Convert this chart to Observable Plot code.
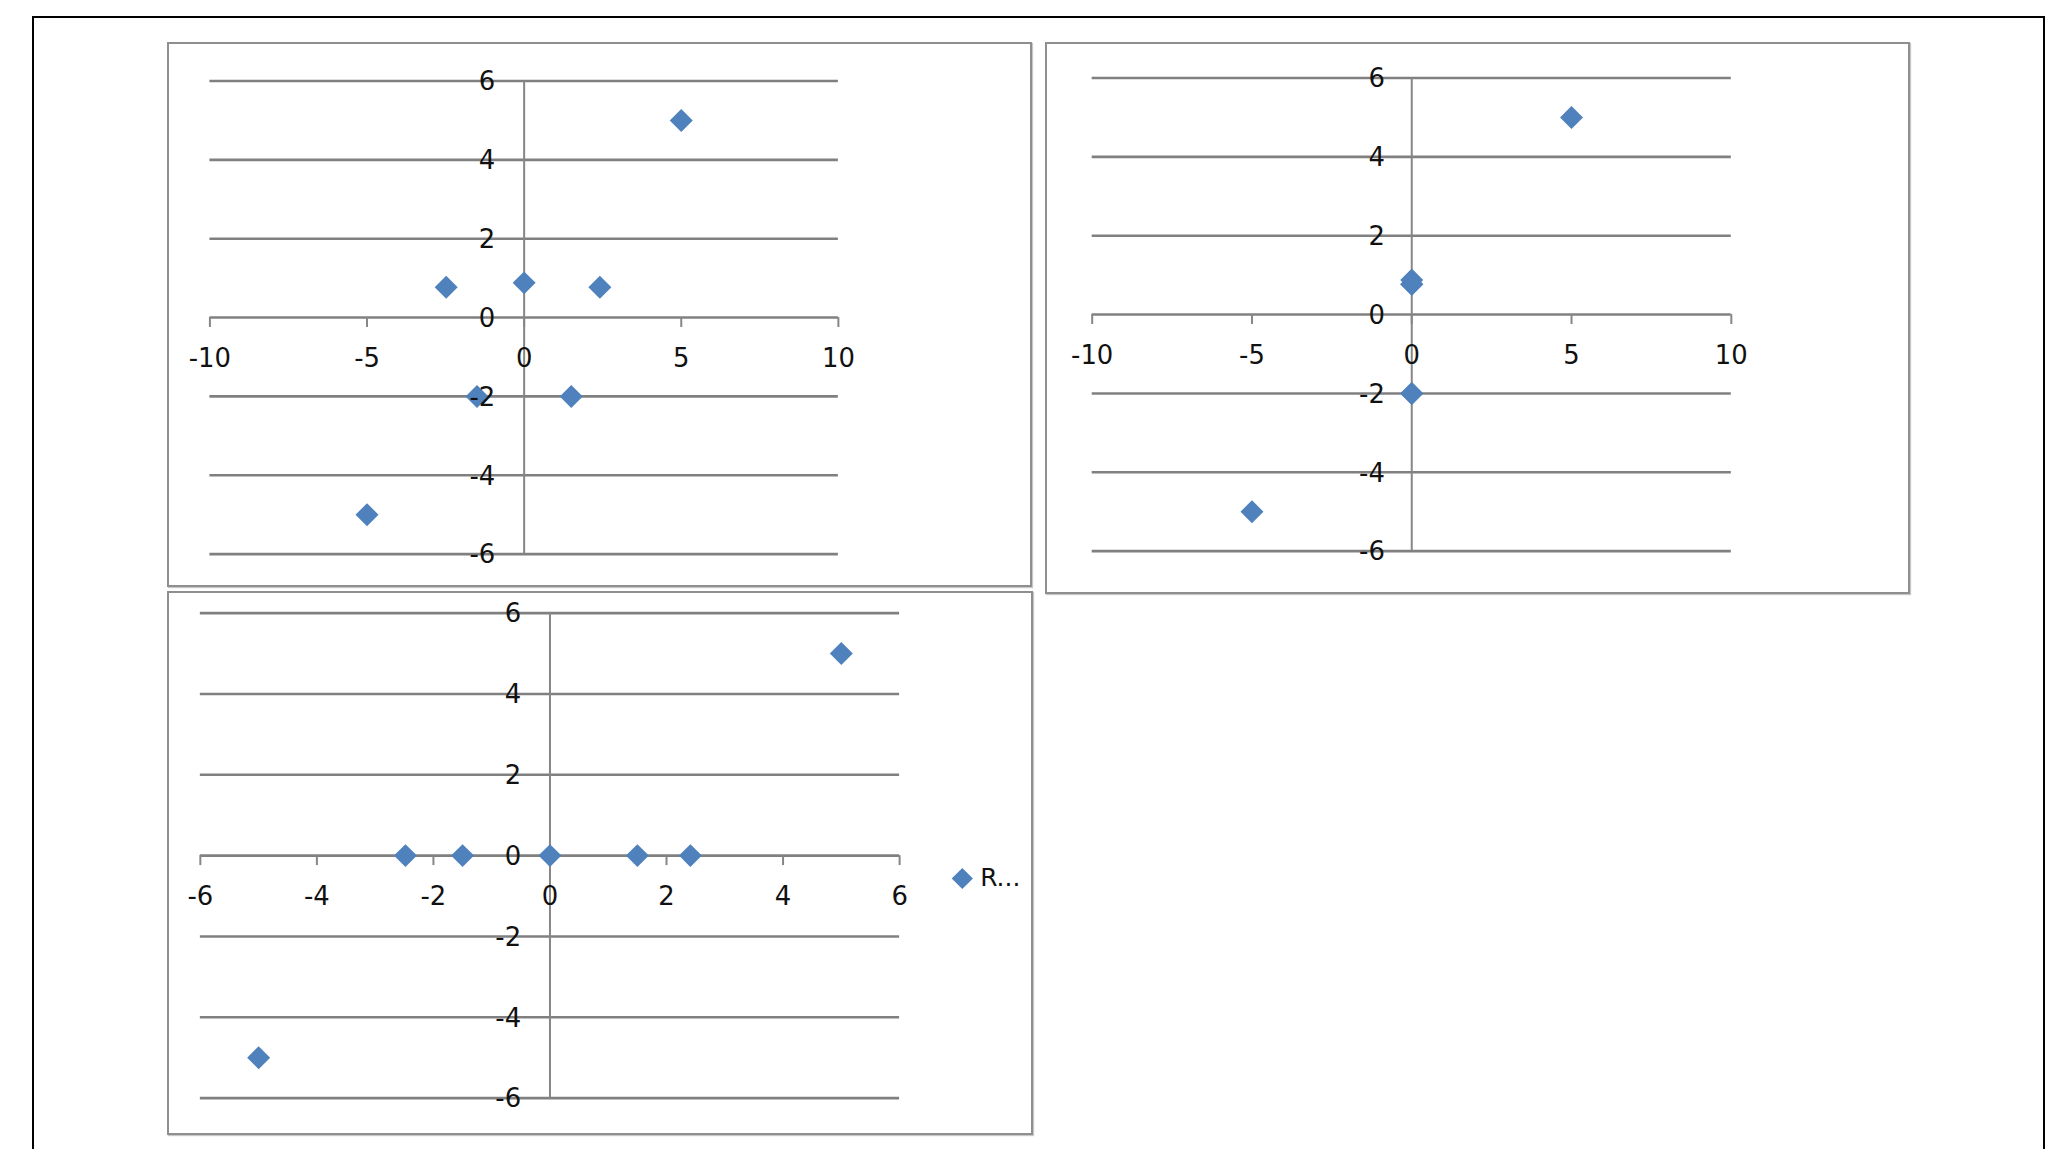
<!DOCTYPE html>
<html>
<head>
<meta charset="utf-8">
<script src="https://cdn.jsdelivr.net/npm/d3@7"></script>
<script src="https://cdn.jsdelivr.net/npm/@observablehq/plot@0.6"></script>
<style>
  html, body { margin: 0; padding: 0; background: #fff; width: 2052px; height: 1149px; overflow: hidden; }
  #frame { position: absolute; left: 32px; top: 16px; width: 2013px; height: 1300px; border: 2px solid #000; box-sizing: border-box; }
  .box { position: absolute; border: 2px solid #8f8f8f; box-sizing: border-box; background: #fff; box-shadow: 1px 1px 1px #c8c8c8; }
  .box svg { position: absolute; left: -2px; top: -2px; }
</style>
</head>
<body>
<div id="frame"></div>
<div id="p1" class="box" style="left:167px;top:42px;width:865px;height:545px"></div>
<div id="p2" class="box" style="left:1045px;top:42px;width:865px;height:552px"></div>
<div id="p3" class="box" style="left:167px;top:591px;width:866px;height:544px"></div>
<script>
// ---- data ----
const yTicks = [-6, -4, -2, 0, 2, 4, 6];
const xTicksWide = [-10, -5, 0, 5, 10];
const xTicksNarrow = [-6, -4, -2, 0, 2, 4, 6];

// panel 1: original points
const p1X = [5, -2.48, 0, 2.41, -1.5, 1.5, -5];
const p1Y = [5, 0.77, 0.88, 0.77, -2, -2, -5];
// panel 2: points projected on x = 0
const p2X = [5, 0, 0, 0, 0, 0, -5];
const p2Y = [5, 0.77, 0.88, 0.77, -2, -2, -5];
// panel 3: points projected on y = 0
const p3X = [5, -2.48, 0, 2.41, -1.5, 1.5, -5];
const p3Y = [5, 0, 0, 0, 0, 0, -5];

const legendLabels = ["R..."];

// ---- styles ----
const GRID = "#808080";
const AXIS = "#868686";
const BLUE = "#4F81BD";
const FONT = "'DejaVu Sans', sans-serif";

function panel({xs, ys, xTicks, width, height, margin, yLabelDx, legend}) {
  const pts = xs.map((x, i) => ({x, y: ys[i]}));
  const xMin = d3.min(xTicks), xMax = d3.max(xTicks);
  const yMin = d3.min(yTicks), yMax = d3.max(yTicks);
  const marks = [
    // horizontal gridlines (y = 0 is the x axis)
    Plot.ruleY(yTicks, {y: d => d, x1: xMin, x2: xMax, stroke: GRID, strokeWidth: 2.6}),
    // vertical axis at x = 0
    Plot.ruleX([0], {x: d => d, y1: yMin, y2: yMax, stroke: AXIS, strokeWidth: 2}),
    // x axis tick marks (outside, downward)
    Plot.ruleX(xTicks, {x: d => d, y1: 0, y2: 0, insetBottom: -10, stroke: AXIS, strokeWidth: 2}),
    // data points
    Plot.dot(pts, {x: "x", y: "y", symbol: "diamond2", r: 10.4, fill: BLUE, stroke: "none"}),
    // y tick labels next to vertical axis
    Plot.text(yTicks, {x: 0, y: d => d, text: d => `${d}`, textAnchor: "end", dx: yLabelDx, dy: 1, fill: "#111"}),
    // x tick labels below horizontal axis
    Plot.text(xTicks, {x: d => d, y: 0, text: d => `${d}`, dy: 41, fill: "#111"})
  ];
  if (legend) {
    marks.push(
      Plot.dot(legendLabels, {frameAnchor: "right", dx: 63, dy: 23, symbol: "diamond2", r: 9.6, fill: BLUE, stroke: "none"}),
      Plot.text(legendLabels, {frameAnchor: "right", dx: 81, dy: 23, text: d => d, textAnchor: "start", fill: "#111", fontSize: 25})
    );
  }
  return Plot.plot({
    width, height,
    marginLeft: margin[0], marginRight: margin[1], marginTop: margin[2], marginBottom: margin[3],
    x: {domain: [xMin, xMax], axis: null},
    y: {domain: [yMin, yMax], axis: null},
    style: {fontFamily: FONT, fontSize: "26px", background: "transparent", overflow: "visible", color: "#111"},
    marks
  });
}

document.getElementById("p1").appendChild(panel({
  xs: p1X, ys: p1Y, xTicks: xTicksWide, width: 865, height: 545,
  margin: [42.6, 191, 38.7, 31], yLabelDx: -29
}));
document.getElementById("p2").appendChild(panel({
  xs: p2X, ys: p2Y, xTicks: xTicksWide, width: 865, height: 552,
  margin: [46.9, 176, 35.7, 41], yLabelDx: -27
}));
document.getElementById("p3").appendChild(panel({
  xs: p3X, ys: p3Y, xTicks: xTicksNarrow, width: 866, height: 544,
  margin: [33, 130.5, 21.7, 35], yLabelDx: -29, legend: true
}));
</script>
</body>
</html>
